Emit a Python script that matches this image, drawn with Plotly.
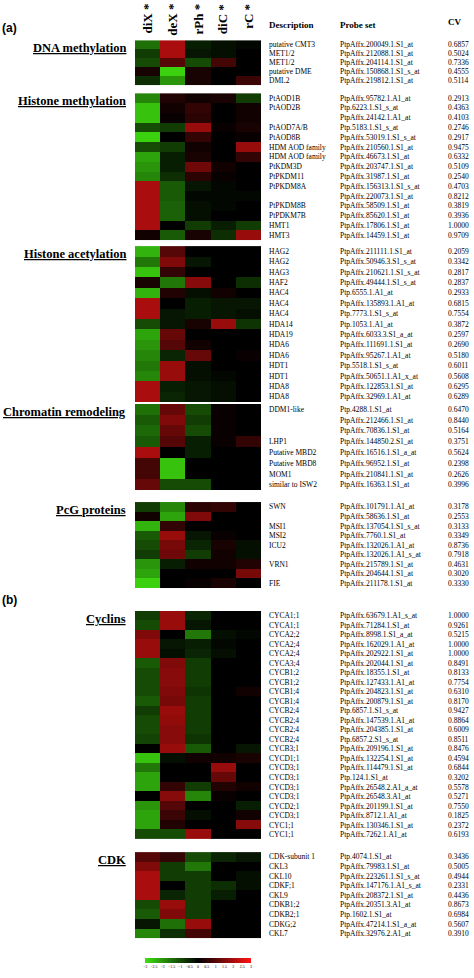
import plotly.graph_objects as go

W, H = 474, 978
conditions = ["diX *", "deX *", "rPh *", "diC *", "rC *"]

dna_desc = ["putative CMT3", "MET1/2", "MET1/2", "putative DME", "DML2"]
dna_probe = ["PtpAffx.200049.1.S1_at", "PtpAffx.212088.1.S1_at", "PtpAffx.204114.1.S1_at", "PtpAffx.150868.1.S1_s_at", "PtpAffx.219812.1.S1_at"]
dna_cv = ["0.6857", "0.5024", "0.7336", "0.4555", "0.5114"]
dna_z = [[-1.5, 2, -0.4, -0.2, -0.1], [-0.8, 2, -0.3, -0.2, 0], [-1, 1, -1, 0.8, 0],
         [0.3, -2.8, 0.3, 0, 0], [-0.6, -2, 0.3, 0, 0.7]]

hm_desc = ["PtAOD1B", "PtAOD2B", "", "PtAOD7A/B", "PtAOD8B", "HDM AOD family", "HDM AOD family",
           "PtKDM3D", "PtPKDM11", "PtPKDM8A", "", "PtPKDM8B", "PtPDKM7B", "HMT1", "HMT3"]
hm_probe = ["PtpAffx.95782.1.A1_at", "Ptp.6223.1.S1_s_at", "PtpAffx.24142.1.A1_at", "Ptp.5183.1.S1_s_at",
            "PtpAffx.53019.1.S1_s_at", "PtpAffx.210560.1.S1_at", "PtpAffx.46673.1.S1_at", "PtpAffx.203747.1.S1_at",
            "PtpAffx.31987.1.S1_at", "PtpAffx.156313.1.S1_s_at", "PtpAffx.220073.1.S1_at", "PtpAffx.58509.1.S1_at",
            "PtpAffx.85620.1.S1_at", "PtpAffx.17806.1.S1_at", "PtpAffx.14459.1.S1_at"]
hm_cv = ["0.2913", "0.4363", "0.4103", "0.2746", "0.2917", "0.9475", "0.6332", "0.5109", "0.2540",
         "0.4703", "0.8212", "0.3819", "0.3936", "1.0000", "0.9709"]
hm_z = [[-1.8, 0.4, 0.2, 0.3, -0.8], [-2.6, 0.2, 0.6, 0, 0.2], [-2.6, 0.1, 0.5, 0, 0.2],
        [-1, -0.8, 1.8, 0.1, 0.3], [-2.8, 0, 0.6, 0, 0.1], [-1, -0.8, 0.2, 0, 1.8],
        [-2.2, -0.4, 0.3, 0, 0.6], [-2, -0.4, 1.3, 0.2, 0], [-1.8, -0.6, 0.5, 0.1, 0],
        [2, -1.2, -0.3, -0.1, 0], [2, -1.2, -0.1, -0.1, -0.1], [2, -1.3, -0.2, -0.1, 0],
        [2, -1.3, -0.2, 0, 0], [2, 0, -0.8, -0.4, -0.8], [0.2, -1.2, 0.3, -0.6, 1.8]]

ha_desc = ["HAG2", "HAG2", "HAG3", "HAF2", "HAC4", "HAC4", "HAC4", "HDA14", "HDA19", "HDA6", "HDA6",
           "HDT1", "HDT1", "HDA8", "HDA8"]
ha_probe = ["PtpAffx.211111.1.S1_at", "PtpAffx.50946.3.S1_s_at", "PtpAffx.210621.1.S1_s_at", "PtpAffx.49444.1.S1_s_at",
            "Ptp.6555.1.A1_at", "PtpAffx.135893.1.A1_at", "Ptp.7773.1.S1_s_at", "Ptp.1053.1.A1_at",
            "PtpAffx.6033.3.S1_a_at", "PtpAffx.111691.1.S1_at", "PtpAffx.95267.1.A1_at", "Ptp.5518.1.S1_s_at",
            "PtpAffx.50651.1.A1_x_at", "PtpAffx.122853.1.S1_at", "PtpAffx.32969.1.A1_at"]
ha_cv = ["0.2059", "0.3342", "0.2817", "0.2837", "0.2933", "0.6815", "0.7554", "0.3872", "0.2597",
         "0.2690", "0.5180", "0.6011", "0.5608", "0.6295", "0.6289"]
ha_z = [[-2.4, 1, 0, 0, 0], [-1.6, 1.5, -0.3, 0, 0], [-2.6, 0.6, 0, 0, 0], [0.3, -1.6, 1.6, 0, -0.6],
        [-2.4, 0.4, -0.2, 0.2, 0], [2, 0, -0.4, -0.3, -0.3], [2, -0.3, -0.4, -0.3, -0.2],
        [-1, -0.3, 0.3, 1.8, -0.7], [-2.2, 1.2, 0, 0, 0], [-2, 1, 0.2, 0, 0], [-1.8, -0.5, 1.2, 0, 0.1],
        [-1.6, 1.8, -0.2, 0, 0], [-1.8, 1.8, -0.2, -0.1, 0], [2, -0.4, -0.3, -0.2, 0], [2, -0.5, -0.3, -0.2, 0]]

cr_desc = ["DDM1-like", "", "", "LHP1", "Putative MBD2", "Putative MBD8", "MOM1", "similar to ISW2"]
cr_probe = ["Ptp.4288.1.S1_at", "PtpAffx.212466.1.S1_at", "PtpAffx.70836.1.S1_at", "PtpAffx.144850.2.S1_at",
            "PtpAffx.16516.1.S1_a_at", "PtpAffx.96952.1.S1_at", "PtpAffx.210841.1.S1_at", "PtpAffx.16363.1.S1_at"]
cr_cv = ["0.6470", "0.8440", "0.5164", "0.3751", "0.5624", "0.2398", "0.2626", "0.3996"]
cr_z = [[-1.5, 1.2, -1, 0.1, 0], [-1.2, 1.5, -0.8, 0.1, 0], [-1.4, 1.2, -1, 0.1, 0], [-1.2, 1, -0.4, 0.1, 0.6],
        [2, 0, -0.4, 0, 0], [0.8, -2.6, 0, 0, 0], [0.8, -2.6, 0, 0, 0], [1.2, -1, -1, 0, 0]]

pcg_desc = ["SWN", "", "MSI1", "MSI2", "ICU2", "", "VRN1", "", "FIE"]
pcg_probe = ["PtpAffx.101791.1.A1_at", "PtpAffx.58636.1.S1_at", "PtpAffx.137054.1.S1_s_at", "PtpAffx.7760.1.S1_at",
             "PtpAffx.132026.1.A1_at", "PtpAffx.132026.1.A1_s_at", "PtpAffx.215789.1.S1_at",
             "PtpAffx.204644.1.S1_at", "PtpAffx.211178.1.S1_at"]
pcg_cv = ["0.3178", "0.2553", "0.3133", "0.3349", "0.8736", "0.7918", "0.4631", "0.3020", "0.3330"]
pcg_z = [[-0.8, -1.8, 0.5, 0.6, 0], [0.2, -2.2, 1.5, 0, 0], [-2.4, 0.6, 0, 0, 0], [-1.2, 1.8, -0.3, 0.1, 0],
         [-1, 1.4, -0.5, 0.3, -0.2], [-0.8, 1.3, -0.8, 0.2, -0.2], [-2, -0.4, 0.2, 0.2, 0.4],
         [-2.2, 0, 0, 0, 1.4], [-2.8, 0, 0.1, 0.3, 0]]

cy_desc = ["CYCA1;1", "CYCA1;1", "CYCA2;2", "CYCA2;4", "CYCA2;4", "CYCA3;4", "CYCB1;2", "CYCB1;2",
           "CYCB1;4", "CYCB1;4", "CYCB2;4", "CYCB2;4", "CYCB2;4", "CYCB2;4", "CYCB3;1", "CYCD1;1",
           "CYCD3;1", "CYCD3;1", "CYCD3;1", "CYCD3;1", "CYCD2;1", "CYCD3;1", "CYC1;1", "CYC1;1"]
cy_probe = ["PtpAffx.63679.1.A1_s_at", "PtpAffx.71284.1.S1_at", "PtpAffx.8998.1.S1_a_at", "PtpAffx.162029.1.A1_at",
            "PtpAffx.202922.1.S1_at", "PtpAffx.202044.1.S1_at", "PtpAffx.18355.1.S1_at", "PtpAffx.127433.1.A1_at",
            "PtpAffx.204823.1.S1_at", "PtpAffx.200879.1.S1_at", "Ptp.6857.1.S1_s_at", "PtpAffx.147539.1.A1_at",
            "PtpAffx.204385.1.S1_at", "Ptp.6857.2.S1_s_at", "PtpAffx.209196.1.S1_at", "PtpAffx.132254.1.S1_at",
            "PtpAffx.114479.1.S1_at", "Ptp.124.1.S1_at", "PtpAffx.26548.2.A1_a_at", "PtpAffx.26548.3.A1_at",
            "PtpAffx.201199.1.S1_at", "PtpAffx.8712.1.A1_at", "PtpAffx.130346.1.S1_at", "PtpAffx.7262.1.A1_at"]
cy_cv = ["1.0000", "0.9261", "0.5215", "1.0000", "1.0000", "0.8491", "0.8133", "0.7754", "0.6310", "0.8170",
         "0.9427", "0.8864", "0.6009", "0.8511", "0.8476", "0.4594", "0.6844", "0.3202", "0.5578", "0.5271",
         "0.7550", "0.1825", "0.2372", "0.6193"]
cy_z = [[-0.8, 1.8, -0.5, 0, 0], [-1, 1.8, -0.3, 0, 0], [1.5, 0, -1.6, -0.2, -0.1], [1.8, -0.3, -0.4, -0.1, 0],
        [1.8, -0.2, -0.5, -0.2, 0], [-1.2, 1.5, -0.8, 0, 0], [-1, 1.6, -0.8, 0, 0], [-1, 1.6, -0.8, 0, 0],
        [-1, 1.5, -0.7, 0, 0.2], [-1.2, 1.4, -0.8, 0, 0], [-0.8, 1.8, -0.8, 0, 0], [-1, 1.7, -0.8, 0, 0],
        [-1, 1.6, -0.8, 0, 0], [-0.9, 1.6, -0.7, 0, 0], [0, 1.8, -1.2, 0, -0.3], [-2.6, -0.2, 0.2, 0.2, 0.3],
        [-1.6, 0, 0, 1.8, 0], [-2.2, 0, 0, 1.2, 0], [-2.2, 0.6, -0.8, 0.4, 0.2], [0, 1.6, -1.8, 0.1, 0],
        [-2, 1, 0, 0, -0.4], [-2.2, 0.7, -0.2, 0, 0.2], [-2.2, 0.4, 0, 0, 1.6], [-1, -1, 1.8, 0, 0]]

cdk_desc = ["CDK-subunit 1", "CKL3", "CKL10", "CDKF;1", "CKL9", "CDKB1;2", "CDKB2;1", "CDKG;2", "CKL7"]
cdk_probe = ["Ptp.4074.1.S1_at", "PtpAffx.79983.1.S1_at", "PtpAffx.223261.1.S1_s_at", "PtpAffx.147176.1.A1_s_at",
             "PtpAffx.208372.1.S1_at", "PtpAffx.20351.3.A1_at", "Ptp.1602.1.S1_at", "PtpAffx.47214.1.S1_a_at",
             "PtpAffx.32976.2.A1_at"]
cdk_cv = ["0.3436", "0.5005", "0.4944", "0.2331", "0.4436", "0.8673", "0.6984", "0.5607", "0.3910"]
cdk_z = [[1, 0.6, -1, -0.5, -0.3], [1.5, -0.8, -1.6, 0, 0], [2, -0.8, -0.8, 0, -0.2], [2, 0, -0.8, -0.6, -0.2],
         [2, -0.5, -0.8, -0.4, 0], [-1, 1.8, -0.8, 0, 0], [-1.2, 1.5, -0.8, 0, 0], [-0.3, -1.5, 1.8, 0, 0],
         [-1.8, -0.6, 0.8, 0, 0]]

cbar_ticks = [-3.0, -2.5, -2.0, -1.5, -1.0, -0.5, 0, 0.5, 1.0, 1.5, 2.0, 2.5, 3.0]

blocks = [
    ("DNA methylation", 41, 87, dna_desc, dna_probe, dna_cv, dna_z),
    ("Histone methylation", 95, 245, hm_desc, hm_probe, hm_cv, hm_z),
    ("Histone acetylation", 251, 410, ha_desc, ha_probe, ha_cv, ha_z),
    ("Chromatin remodeling", 412, 500, cr_desc, cr_probe, cr_cv, cr_z),
    ("PcG proteins", 512, 600, pcg_desc, pcg_probe, pcg_cv, pcg_z),
    ("Cyclins", 623, 856, cy_desc, cy_probe, cy_cv, cy_z),
    ("CDK", 869, 957, cdk_desc, cdk_probe, cdk_cv, cdk_z),
]

cscale = [[0, "#3fe010"], [0.5, "#000000"], [1, "#ff1414"]]
X0, X1 = 135 / W, 261 / W
serif = "Liberation Serif"
fig = go.Figure()
ann = []
for i, (title, top, bot, desc, probe, cv, z) in enumerate(blocks):
    k = "" if i == 0 else str(i + 1)
    last = i == len(blocks) - 1
    fig.add_trace(go.Heatmap(
        z=z, x=list(range(5)), y=list(range(len(z))), xaxis="x" + k, yaxis="y" + k,
        colorscale=cscale, zmin=-3, zmax=3, showscale=last,
        colorbar=dict(orientation="h", x=(X0 + X1) / 2, xanchor="center", y=1 - 967 / H, yanchor="top",
                      len=X1 - X0, lenmode="fraction", thickness=5, outlinewidth=0,
                      tickvals=cbar_ticks, tickfont=dict(size=4, family=serif, color="#000"), ticklen=0)))
    fig.layout["xaxis" + k] = dict(domain=[X0, X1], range=[-0.5, 4.5], visible=False, anchor="y" + k)
    fig.layout["yaxis" + k] = dict(domain=[1 - bot / H, 1 - top / H], range=[len(z) - 0.5, -0.5],
                                   visible=False, anchor="x" + k)
    for r in range(len(z)):
        for txt, xp in ((desc[r], 267), (probe[r], 338), (cv[r], 446)):
            if txt:
                ann.append(dict(text=txt, x=xp / W, xref="paper", y=r, yref="y" + k, xanchor="left",
                                yanchor="middle", showarrow=False, font=dict(family=serif, size=7.5, color="#000")))
    ann.append(dict(text="<b>" + title + "</b>", x=128 / W, xref="paper", y=1 - (top - 1) / H, yref="paper",
                    xanchor="right", yanchor="top", showarrow=False,
                    font=dict(family=serif, size=12.5, color="#000", lineposition="under")))

for j, c in enumerate(conditions):
    ann.append(dict(text="<b>" + c + "</b>", x=j, xref="x", y=1 - 2 / H, yref="paper", textangle=-90,
                    xanchor="center", yanchor="top", showarrow=False, font=dict(family=serif, size=13, color="#000")))
for txt, xp, yp in (("Description", 267, 25), ("Probe set", 338, 25), ("CV", 446, 22)):
    ann.append(dict(text="<b>" + txt + "</b>", x=xp / W, xref="paper", y=1 - yp / H, yref="paper",
                    xanchor="left", yanchor="middle", showarrow=False, font=dict(family=serif, size=9, color="#000")))
for txt, yp in (("(a)", 29), ("(b)", 612)):
    ann.append(dict(text="<b>" + txt + "</b>", x=0, xref="paper", y=1 - yp / H, yref="paper",
                    xanchor="left", yanchor="middle", showarrow=False,
                    font=dict(family="Liberation Sans", size=12, color="#000")))

fig.update_layout(width=W, height=H, margin=dict(l=0, r=0, t=0, b=0), plot_bgcolor="white",
                  paper_bgcolor="white", annotations=ann, showlegend=False)
fig.write_html("out.html", config={"displayModeBar": False},
               post_script="document.body.style.margin='0';document.body.style.overflow='hidden';")
